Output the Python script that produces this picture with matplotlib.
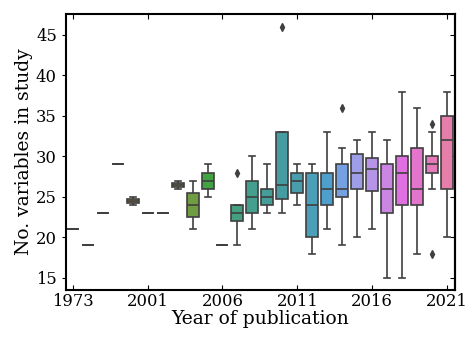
"""Box plot of number of variables per study by year of publication."""

import matplotlib

matplotlib.use("Agg")
import matplotlib.pyplot as plt
import pandas as pd
import seaborn as sns

# Category years; only every fifth one is labelled on the axis.
years = [1973, 1985, 1991, 1996, 1999] + list(range(2001, 2022))

# Number of variables per study.
n_vars = [
    [21],
    [19],
    [23],
    [29],
    [24, 25],
    [23],
    [23],
    [26, 27],
    [21, 24, 27],
    [25, 26, 27, 28, 29],
    [19],
    [19, 22, 22, 23, 23, 24, 24, 28],
    [21, 23, 25, 27, 30],
    [23, 24, 25, 26, 29],
    [23, 24, 25, 26, 27, 33, 33, 46],
    [24, 25, 26, 27, 28, 28, 29],
    [18, 20, 20, 22, 24, 26, 28, 28, 29],
    [21, 24, 24, 26, 28, 28, 33],
    [19, 25, 25, 26, 26, 29, 29, 31, 36],
    [20, 26, 26, 28, 28, 30, 31, 32],
    [21, 23, 25, 28, 28, 29, 29, 30, 30, 33],
    [15, 19, 23, 25, 26, 28, 29, 30, 32],
    [15, 22, 24, 27, 28, 29, 30, 31, 38],
    [18, 22, 24, 25, 26, 28, 31, 33, 36],
    [18, 26, 28, 28, 29, 29, 30, 30, 33, 34],
    [20, 25, 27, 32, 34, 36, 38],
]

y_ticks = [15, 20, 25, 30, 35, 40, 45]

plt.rcParams["font.family"] = "DejaVu Serif"

rows = [(str(y), v) for y, vals in zip(years, n_vars) for v in vals]
df = pd.DataFrame(rows, columns=["year", "n_vars"])
order = [str(y) for y in years]

fig = plt.figure(figsize=(4.74, 3.55), dpi=100)
ax = fig.add_axes([0.139, 0.183, 0.821, 0.778])

sns.boxplot(
    data=df,
    x="year",
    y="n_vars",
    hue="year",
    order=order,
    hue_order=order,
    palette=sns.husl_palette(len(years)),
    legend=False,
    width=0.8,
    linewidth=1.2,
    flierprops={"marker": "d", "markersize": 4, "markerfacecolor": "#3f3f3f",
                "markeredgecolor": "#3f3f3f"},
    ax=ax,
)

ax.set_xlim(-0.47, len(years) - 0.45)
ax.set_ylim(13.5, 47.6)
ax.set_xticks(range(0, len(years), 5))
ax.set_xticklabels(order[::5])
ax.set_yticks(y_ticks)

ax.tick_params(axis="x", direction="in", top=True, labelsize=11.8, pad=2)
ax.tick_params(axis="y", direction="out", labelsize=11.8, length=3)
sec = ax.secondary_yaxis("right")
sec.set_yticks(y_ticks)
sec.tick_params(direction="in", labelright=False)
sec.spines["right"].set_linewidth(1.5)

for spine in ax.spines.values():
    spine.set_linewidth(1.5)

ax.set_xlabel("Year of publication", fontsize=13.5, labelpad=0)
ax.set_ylabel("No. variables in study", fontsize=13.5, labelpad=2)

fig.savefig("out.png", dpi=100)
